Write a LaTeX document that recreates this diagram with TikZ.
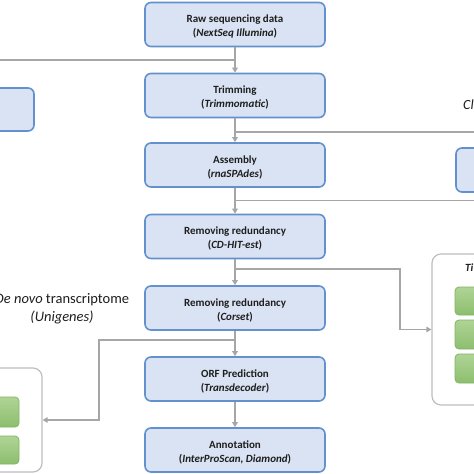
\documentclass[tikz,border=0pt]{standalone}
\usepackage{fontspec}
\setmainfont{Carlito}
\usetikzlibrary{arrows.meta}
\definecolor{bfill}{RGB}{218,227,243}
\definecolor{bline}{RGB}{98,145,206}
\definecolor{gtop}{RGB}{176,212,150}
\definecolor{gbot}{RGB}{140,190,110}
\definecolor{gline}{RGB}{130,180,100}
\definecolor{conn}{RGB}{166,166,166}
\definecolor{frame}{RGB}{190,190,190}
\definecolor{txt}{RGB}{30,30,30}
\tikzset{
  x=1pt, y=-1pt,
  mainbox/.style={draw=bline, fill=bfill, line width=1.6pt, rounded corners=6pt,
    minimum width=180pt, minimum height=44pt},
  boxtext/.style={align=center, text=txt, inner sep=0pt,
    font=\fontsize{11}{14}\selectfont\bfseries},
  bluepart/.style={draw=bline, fill=bfill, line width=1.6pt, rounded corners=6pt},
  greenbox/.style={draw=gline, top color=gtop, bottom color=gbot, line width=0.8pt, rounded corners=4pt},
  groupbox/.style={draw=frame, fill=white, line width=1.2pt, rounded corners=9pt},
  conline/.style={draw=conn, line width=1.5pt},
  arr/.style={conline, -{Triangle[length=5pt,width=5.5pt]}},
}
\begin{document}
\begin{tikzpicture}
\useasboundingbox (0,0) rectangle (474,474);
\clip (0,0) rectangle (474,474);
\fill[white] (0,0) rectangle (474,474);

% main pipeline
\node[mainbox] (b1) at (235,24.5) {};
\node[mainbox] (b2) at (235,95.5) {};
\node[mainbox] (b3) at (235,165) {};
\node[mainbox] (b4) at (235,236.5) {};
\node[mainbox] (b5) at (235,308) {};
\node[mainbox] (b6) at (235,379) {};
\node[mainbox] (b7) at (235,450) {};
\node[boxtext] (t1) at ([yshift=-2pt]b1.center) {Raw sequencing data\\(\textit{NextSeq Illumina})};
\node[boxtext] (t2) at ([yshift=-2pt]b2.center) {Trimming\\(\textit{Trimmomatic})};
\node[boxtext] (t3) at ([yshift=-2pt]b3.center) {Assembly\\(\textit{rnaSPAdes})};
\node[boxtext] (t4) at ([yshift=-2pt]b4.center) {Removing redundancy\\(\textit{CD-HIT-est})};
\node[boxtext] (t5) at ([yshift=-2pt]b5.center) {Removing redundancy\\(\textit{Corset})};
\node[boxtext] (t6) at ([yshift=-2pt]b6.center) {ORF Prediction\\(\textit{Transdecoder})};
\node[boxtext] (t7) at ([yshift=-2pt]b7.center) {Annotation\\(\textit{InterProScan, Diamond})};

% side elements (partially visible)
\node[bluepart, minimum width=50pt, minimum height=43pt] (lb) at (9,109.5) {};
\node[bluepart, minimum width=50pt, minimum height=44pt] (rb) at (481,170) {};

\node[groupbox, minimum width=70pt, minimum height=104pt] (lg) at (7,420) {};
\node[greenbox, minimum width=40pt, minimum height=30pt] (lg1) at (-1,412) {};
\node[greenbox, minimum width=40pt, minimum height=28pt] (lg2) at (-1,450) {};

\node[groupbox, minimum width=80pt, minimum height=151pt] (rg) at (472,329.5) {};
\node[greenbox, minimum width=40pt, minimum height=28pt] (rg1) at (475,301) {};
\node[greenbox, minimum width=40pt, minimum height=29pt] (rg2) at (475,334.5) {};
\node[greenbox, minimum width=40pt, minimum height=29pt] (rg3) at (475,368.5) {};

\node[anchor=west, text=txt, font=\fontsize{11}{12}\selectfont\bfseries\itshape, inner sep=0pt] (ti) at (465,268) {Ti};
\node[anchor=west, text=txt, font=\fontsize{14}{15}\selectfont\itshape, inner sep=0pt] (cl) at (463,105) {Cl};
\node[align=center, text=txt, font=\fontsize{14.5}{18}\selectfont] (dn) at (62,309) {\textit{De novo} transcriptome\\\textit{(Unigenes)}};

% junction coordinates
\coordinate (j1) at (235,60);
\coordinate (e1) at (-5,60);
\coordinate (j2) at (235,132);
\coordinate (e2) at (480,132);
\coordinate (j3) at (235,200.5);
\coordinate (e3) at (480,200.5);
\coordinate (j4) at (235,269);
\coordinate (c4) at (400,269);
\coordinate (j5) at (235,340);
\coordinate (c5) at (99,340);

% connectors
\draw[arr] (b1.south) -- (b2.north);
\draw[conline] (j1) -- (e1);
\draw[arr] (b2.south) -- (b3.north);
\draw[conline] (j2) -- (e2);
\draw[arr] (b3.south) -- (b4.north);
\draw[conline] (j3) -- (e3);
\draw[arr] (b4.south) -- (b5.north);
\draw[arr] (j4) -- (c4) |- (rg.west);
\draw[arr] (b5.south) -- (b6.north);
\draw[arr] (j5) -- (c5) |- (lg.east);
\draw[arr] (b6.south) -- (b7.north);
\end{tikzpicture}
\end{document}
